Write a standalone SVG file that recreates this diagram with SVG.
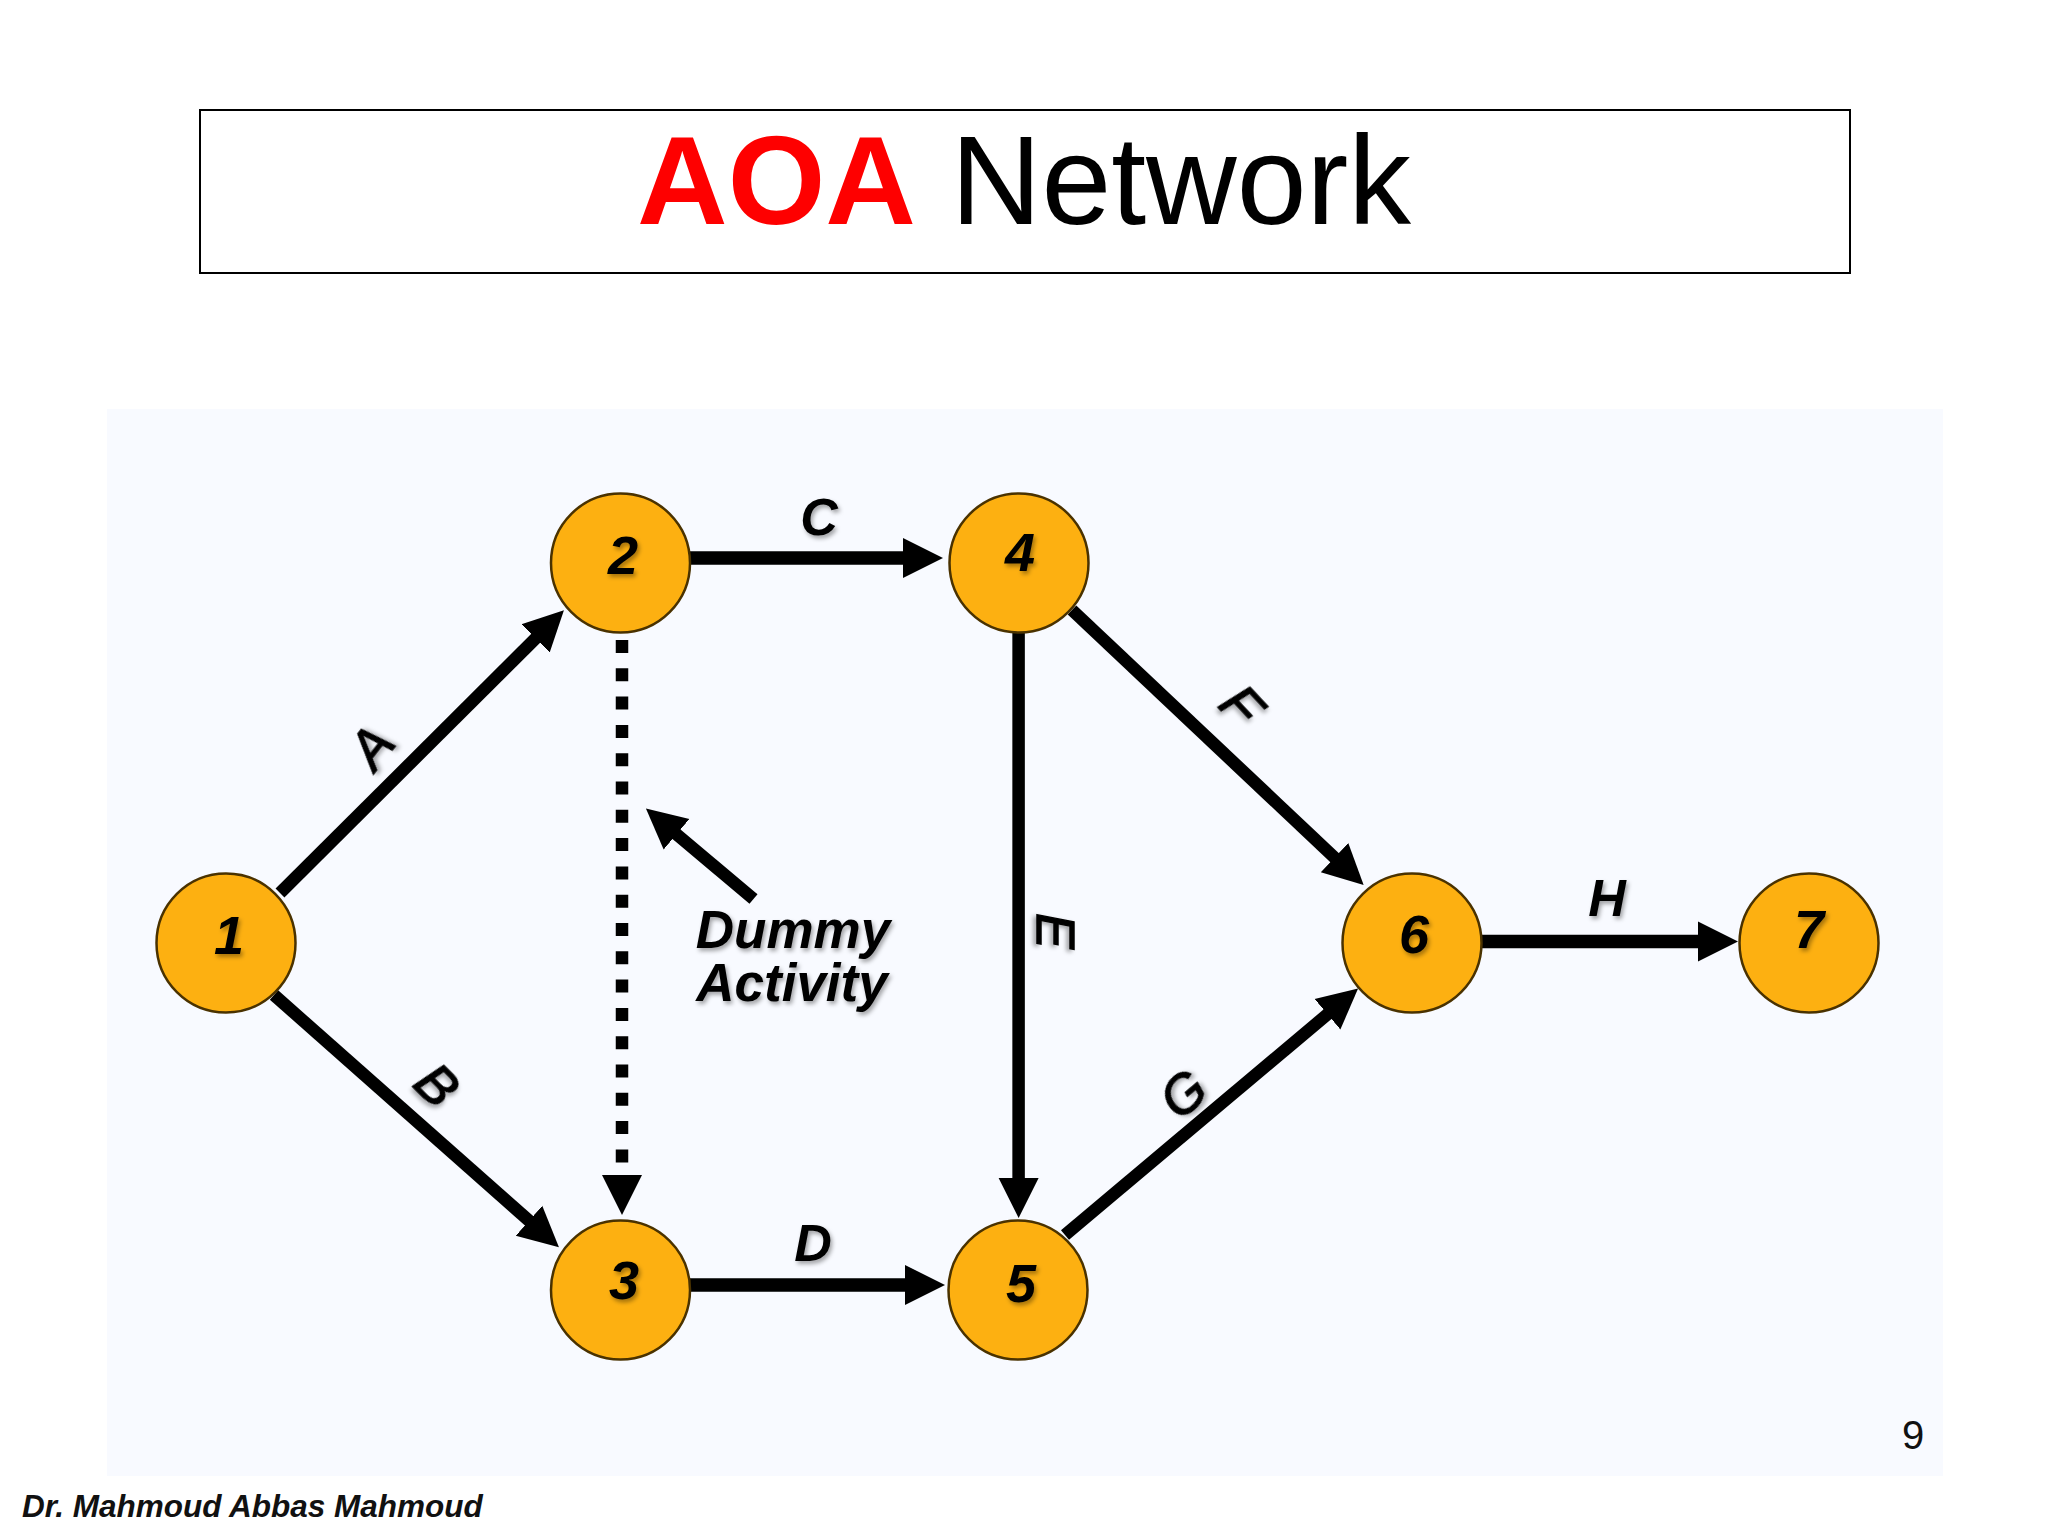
<svg xmlns="http://www.w3.org/2000/svg" width="2048" height="1536" viewBox="0 0 2048 1536">
<style>
text{font-family:"Liberation Sans",Arial,sans-serif}
.edge{stroke:#000;fill:none;marker-end:url(#head)}
.w10{stroke-width:12.5}.w13{stroke-width:13.5}
.node{fill:#fdb011;stroke:#4a3200;stroke-width:2.5}
.num,.lab{font-weight:bold;font-style:italic;font-size:52px;fill:#050505;text-anchor:middle;filter:url(#soft)}
.num{font-size:54px}
.thin{font-weight:normal;stroke:#050505;stroke-width:1.3;font-size:54px}
.dummy{font-size:53px}
</style>
<defs>
<marker id="head" markerUnits="userSpaceOnUse" markerWidth="42" markerHeight="42" refX="2" refY="21" orient="auto"><path d="M0,1 L40,21 L0,41 z" fill="#000"/></marker>
<filter id="soft" x="-30%" y="-30%" width="170%" height="170%"><feDropShadow dx="2" dy="3" stdDeviation="2" flood-color="#000" flood-opacity="0.35"/></filter>
</defs>
<rect width="2048" height="1536" fill="#fff"/>
<rect x="107" y="409" width="1836" height="1067" fill="#f8faff"/>
<g id="title"><rect x="200" y="110" width="1650" height="163" fill="#fff" stroke="#000" stroke-width="2"/>
<text x="637" y="224" font-size="125.5"><tspan font-weight="bold" fill="#fe0000">AOA</tspan><tspan fill="#000"> Network</tspan></text></g>
<g id="connectors">
<line class="edge w10" x1="280" y1="893" x2="537" y2="637"/>
<line class="edge w10" x1="274" y1="995" x2="530.5" y2="1222"/>
<line class="edge w13" x1="690" y1="558" x2="905" y2="558"/>
<line class="edge w13" x1="690" y1="1285" x2="907" y2="1285"/>
<line class="edge w10" x1="1018.6" y1="633" x2="1018.6" y2="1180"/>
<line class="edge w10" x1="1072" y1="610" x2="1336" y2="859"/>
<line class="edge w10" x1="1065" y1="1235" x2="1329" y2="1013"/>
<line class="edge w13" x1="1482" y1="941.5" x2="1700" y2="941.5"/>
<line class="edge w10" x1="622" y1="640" x2="622" y2="1177" stroke-dasharray="13 15.3"/>
<line class="edge w10" x1="753.5" y1="899" x2="675" y2="833"/>
</g>
<g id="edge-labels">
<text class="lab thin" transform="translate(386,758) rotate(-52)">A</text>
<text class="lab thin" transform="translate(424,1098) rotate(45)">B</text>
<text class="lab" x="819" y="535">C</text>
<text class="lab" x="813" y="1261">D</text>
<text class="lab thin" transform="translate(1037,931) rotate(90)">E</text>
<text class="lab thin" transform="translate(1228,718) rotate(47)">F</text>
<text class="lab thin" transform="translate(1195,1108) rotate(-40)">G</text>
<text class="lab" x="1607" y="916">H</text>
</g>
<g id="dummy-label"><text class="lab dummy" style="font-size:53px" y="948"><tspan x="793">Dummy</tspan><tspan x="792" dy="53">Activity</tspan></text></g>
<g id="node-1"><circle class="node" cx="226" cy="943" r="69.5"/><text class="num" x="229" y="954">1</text></g>
<g id="node-2"><circle class="node" cx="620.5" cy="563" r="69.5"/><text class="num" x="623" y="574">2</text></g>
<g id="node-3"><circle class="node" cx="620.5" cy="1290" r="69.5"/><text class="num" x="624" y="1299">3</text></g>
<g id="node-4"><circle class="node" cx="1019" cy="563" r="69.5"/><text class="num" x="1020" y="571">4</text></g>
<g id="node-5"><circle class="node" cx="1018" cy="1290" r="69.5"/><text class="num" x="1021" y="1302">5</text></g>
<g id="node-6"><circle class="node" cx="1412" cy="943" r="69.5"/><text class="num" x="1414" y="953">6</text></g>
<g id="node-7"><circle class="node" cx="1809" cy="943" r="69.5"/><text class="num" x="1809" y="948">7</text></g>
<text x="1913" y="1449" font-size="40" text-anchor="middle" fill="#111">9</text>
<text x="22" y="1517" font-size="31.5" font-weight="bold" font-style="italic" fill="#111">Dr. Mahmoud Abbas Mahmoud</text>
</svg>
